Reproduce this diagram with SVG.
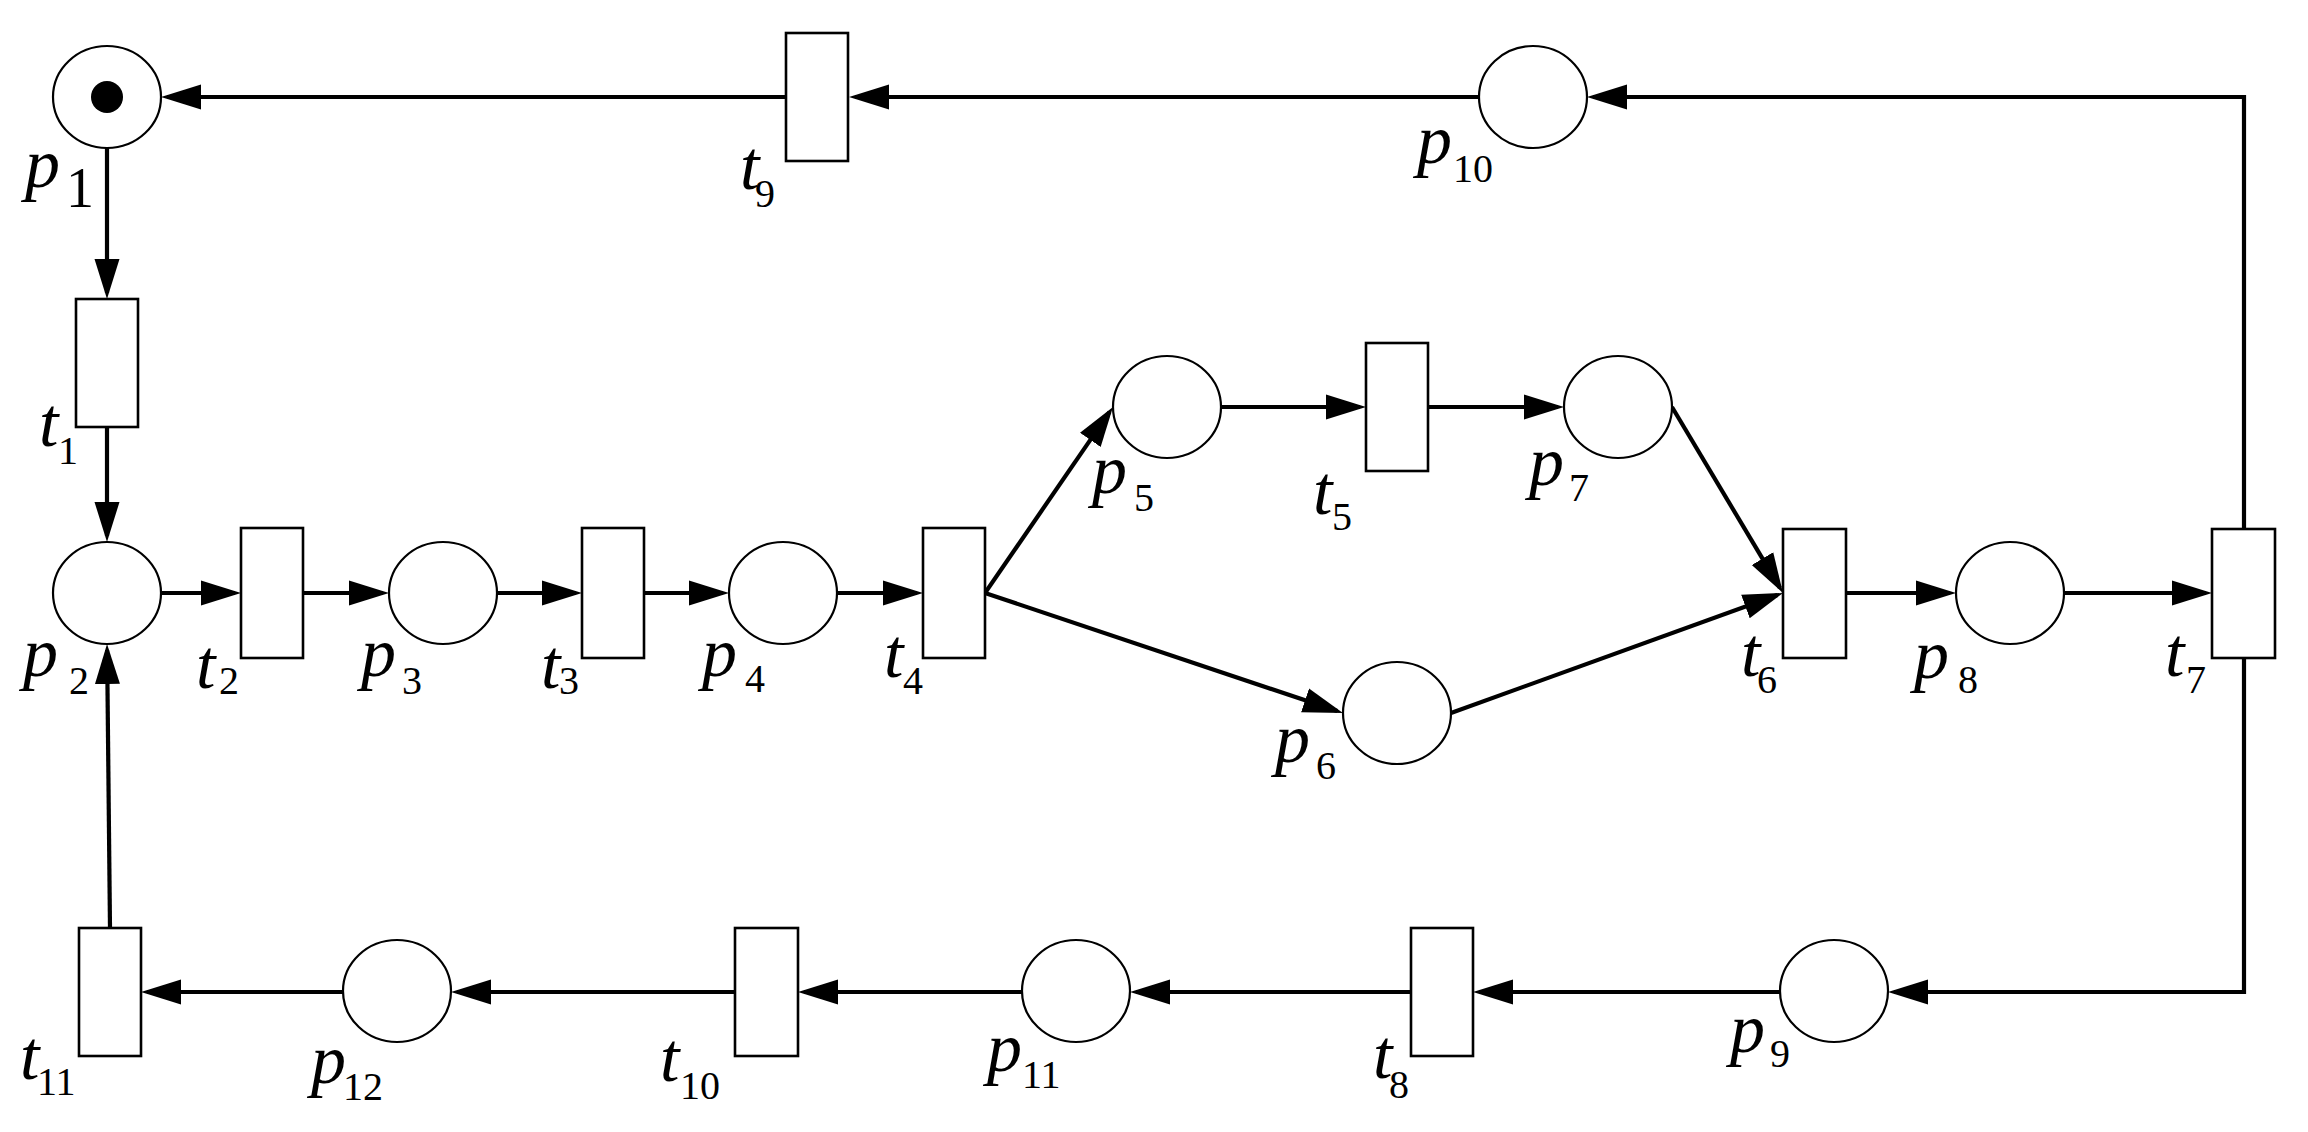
<svg xmlns="http://www.w3.org/2000/svg" width="2308" height="1132" viewBox="0 0 2308 1132">
<style>
.place{fill:#fff;stroke:#000;stroke-width:2.2}
.trans{fill:#fff;stroke:#000;stroke-width:2.6}
.edge{fill:none;stroke:#000;stroke-width:4.2;marker-end:url(#ah)}
text{fill:#000;font-family:'Liberation Serif','Times New Roman','DejaVu Serif',serif}
.m{font-size:70px;font-style:italic}
.s{font-size:40px}
</style>
<defs>
<marker id="ah" markerUnits="userSpaceOnUse" markerWidth="40" markerHeight="26" refX="34" refY="12.5" orient="auto" viewBox="0 0 40 25">
<path d="M0,0 L40,12.5 L0,25 Z" fill="#000"/>
</marker>
</defs>
<rect width="2308" height="1132" fill="#fff"/>
<g id="connectors">
<line class="edge" x1="786" y1="97" x2="167" y2="97"/>
<line class="edge" x1="1479" y1="97" x2="855" y2="97"/>
<path class="edge" d="M2244,529 V97 H1593"/>
<line class="edge" x1="107" y1="148" x2="107" y2="293"/>
<line class="edge" x1="107" y1="427" x2="107" y2="536"/>
<line class="edge" x1="161" y1="593" x2="235" y2="593"/>
<line class="edge" x1="303" y1="593" x2="383" y2="593"/>
<line class="edge" x1="497" y1="593" x2="576" y2="593"/>
<line class="edge" x1="644" y1="593" x2="723" y2="593"/>
<line class="edge" x1="837" y1="593" x2="917" y2="593"/>
<line class="edge" x1="985" y1="593" x2="1109.6" y2="411.9"/>
<line class="edge" x1="985" y1="593" x2="1337.3" y2="711.1"/>
<line class="edge" x1="1221" y1="407" x2="1360" y2="407"/>
<line class="edge" x1="1428" y1="407" x2="1558" y2="407"/>
<line class="edge" x1="1672" y1="407" x2="1779.9" y2="587.8"/>
<line class="edge" x1="1451" y1="713" x2="1777.4" y2="595"/>
<line class="edge" x1="1846" y1="593" x2="1950" y2="593"/>
<line class="edge" x1="2064" y1="593" x2="2206" y2="593"/>
<path class="edge" d="M2244,658 V992 H1894"/>
<line class="edge" x1="1780" y1="992" x2="1479" y2="992"/>
<line class="edge" x1="1411" y1="992" x2="1136" y2="992"/>
<line class="edge" x1="1022" y1="992" x2="804" y2="992"/>
<line class="edge" x1="735" y1="992" x2="457" y2="992"/>
<line class="edge" x1="343" y1="992" x2="147" y2="992"/>
<line class="edge" x1="110" y1="928" x2="107.1" y2="650"/>
</g>
<g id="p1"><ellipse class="place" cx="107" cy="97" rx="54" ry="51"/><circle cx="107" cy="97" r="16" fill="#000"/>
<text><tspan class="m" x="25" y="187">p</tspan><tspan class="s" style="font-size:56px" x="66" y="207">1</tspan></text></g>
<g id="t1"><rect class="trans" x="76" y="299" width="62" height="128"/>
<text><tspan class="m" x="39" y="446">t</tspan><tspan class="s" x="58" y="464">1</tspan></text></g>
<g id="p2"><ellipse class="place" cx="107" cy="593" rx="54" ry="51"/>
<text><tspan class="m" x="23" y="676">p</tspan><tspan class="s" x="69" y="694">2</tspan></text></g>
<g id="t2"><rect class="trans" x="241" y="528" width="62" height="130"/>
<text><tspan class="m" x="196" y="688">t</tspan><tspan class="s" x="219" y="694">2</tspan></text></g>
<g id="p3"><ellipse class="place" cx="443" cy="593" rx="54" ry="51"/>
<text><tspan class="m" x="361" y="676">p</tspan><tspan class="s" x="402" y="694">3</tspan></text></g>
<g id="t3"><rect class="trans" x="582" y="528" width="62" height="130"/>
<text><tspan class="m" x="541" y="688">t</tspan><tspan class="s" x="559" y="694">3</tspan></text></g>
<g id="p4"><ellipse class="place" cx="783" cy="593" rx="54" ry="51"/>
<text><tspan class="m" x="702" y="676">p</tspan><tspan class="s" x="745" y="692">4</tspan></text></g>
<g id="t4"><rect class="trans" x="923" y="528" width="62" height="130"/>
<text><tspan class="m" x="884" y="677">t</tspan><tspan class="s" x="903" y="694">4</tspan></text></g>
<g id="p5"><ellipse class="place" cx="1167" cy="407" rx="54" ry="51"/>
<text><tspan class="m" x="1092" y="493">p</tspan><tspan class="s" x="1134" y="511">5</tspan></text></g>
<g id="t5"><rect class="trans" x="1366" y="343" width="62" height="128"/>
<text><tspan class="m" x="1313" y="514">t</tspan><tspan class="s" x="1332" y="530">5</tspan></text></g>
<g id="p6"><ellipse class="place" cx="1397" cy="713" rx="54" ry="51"/>
<text><tspan class="m" x="1275" y="762">p</tspan><tspan class="s" x="1316" y="779">6</tspan></text></g>
<g id="p7"><ellipse class="place" cx="1618" cy="407" rx="54" ry="51"/>
<text><tspan class="m" x="1529" y="485">p</tspan><tspan class="s" x="1569" y="501">7</tspan></text></g>
<g id="t6"><rect class="trans" x="1783" y="529" width="63" height="129"/>
<text><tspan class="m" x="1741" y="676">t</tspan><tspan class="s" x="1757" y="693">6</tspan></text></g>
<g id="p8"><ellipse class="place" cx="2010" cy="593" rx="54" ry="51"/>
<text><tspan class="m" x="1914" y="678">p</tspan><tspan class="s" x="1958" y="693">8</tspan></text></g>
<g id="t7"><rect class="trans" x="2212" y="529" width="63" height="129"/>
<text><tspan class="m" x="2165" y="676">t</tspan><tspan class="s" x="2186" y="693">7</tspan></text></g>
<g id="t9"><rect class="trans" x="786" y="33" width="62" height="128"/>
<text><tspan class="m" x="740" y="189">t</tspan><tspan class="s" x="755" y="207">9</tspan></text></g>
<g id="p10"><ellipse class="place" cx="1533" cy="97" rx="54" ry="51"/>
<text><tspan class="m" x="1417" y="163">p</tspan><tspan class="s" x="1453" y="182">10</tspan></text></g>
<g id="p9"><ellipse class="place" cx="1834" cy="991" rx="54" ry="51"/>
<text><tspan class="m" x="1730" y="1052">p</tspan><tspan class="s" x="1770" y="1067">9</tspan></text></g>
<g id="t8"><rect class="trans" x="1411" y="928" width="62" height="128"/>
<text><tspan class="m" x="1373" y="1078">t</tspan><tspan class="s" x="1389" y="1098">8</tspan></text></g>
<g id="p11"><ellipse class="place" cx="1076" cy="991" rx="54" ry="51"/>
<text><tspan class="m" x="987" y="1071">p</tspan><tspan class="s" x="1022" y="1088">11</tspan></text></g>
<g id="t10"><rect class="trans" x="735" y="928" width="63" height="128"/>
<text><tspan class="m" x="660" y="1081">t</tspan><tspan class="s" x="680" y="1099">10</tspan></text></g>
<g id="p12"><ellipse class="place" cx="397" cy="991" rx="54" ry="51"/>
<text><tspan class="m" x="311" y="1083">p</tspan><tspan class="s" x="343" y="1100">12</tspan></text></g>
<g id="t11"><rect class="trans" x="79" y="928" width="62" height="128"/>
<text><tspan class="m" x="20" y="1079">t</tspan><tspan class="s" x="37" y="1095">11</tspan></text></g>
</svg>
